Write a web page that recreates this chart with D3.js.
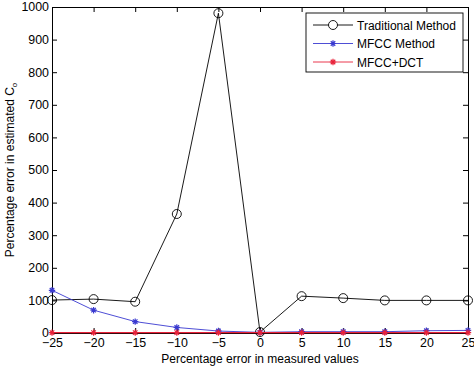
<!DOCTYPE html>
<html>
<head>
<meta charset="utf-8">
<title>Percentage error</title>
<style>
  body { margin: 0; background: #fff; }
  text { font-family: "Liberation Sans", Arial, sans-serif; font-size: 12px; fill: #000; }
</style>
<script src="https://d3js.org/d3.v7.min.js"></script>
</head>
<body>
<svg id="chart" width="474" height="367"></svg>
<script>
// values
var errors = [-25, -20, -15, -10, -5, 0, 5, 10, 15, 20, 25];
var traditional = [101, 104, 96, 365, 981, 3, 113, 107, 100, 100, 100];
var mfcc = [131, 70, 35, 17, 6, 2, 4, 4, 4, 7, 8];
var mfccDct = [1, 1, 1, 1, 1, 1, 1, 1, 1, 1, 1];
var xTicks = [-25, -20, -15, -10, -5, 0, 5, 10, 15, 20, 25];
var yTicks = [0, 100, 200, 300, 400, 500, 600, 700, 800, 900, 1000];
var seriesNames = ["Traditional Method", "MFCC Method", "MFCC+DCT"];

var svg = d3.select("#chart"),
    margin = {top: 7, right: 6, bottom: 34, left: 52},
    width = +svg.attr("width") - margin.left - margin.right,
    height = +svg.attr("height") - margin.top - margin.bottom;

var x = d3.scaleLinear().domain([-25, 25]).range([0, width]);
var y = d3.scaleLinear().domain([0, 1000]).range([height, 0]);

var g = svg.append("g").attr("transform", "translate(" + margin.left + "," + margin.top + ")");

// axes with inward ticks (matlab box style)
var tk = 5;
g.append("g").attr("transform", "translate(0," + height + ")")
  .call(d3.axisBottom(x).tickValues(xTicks).tickSizeInner(-tk).tickSizeOuter(0).tickPadding(5).tickFormat(d3.format("d")));
g.append("g")
  .call(d3.axisTop(x).tickValues(xTicks).tickSizeInner(-tk).tickSizeOuter(0).tickFormat(""));
g.append("g")
  .call(d3.axisLeft(y).tickValues(yTicks).tickSizeInner(-tk).tickSizeOuter(0).tickPadding(3).tickFormat(d3.format("d")));
g.append("g").attr("transform", "translate(" + width + ",0)")
  .call(d3.axisRight(y).tickValues(yTicks).tickSizeInner(-tk).tickSizeOuter(0).tickFormat(""));
g.selectAll(".domain").attr("stroke", "#000");
g.selectAll(".tick line").attr("stroke", "#000");
g.selectAll(".tick text").style("font-size", "12.4px")
  .style("font-family", "'Liberation Sans', Arial, sans-serif");

// axis titles
svg.append("text")
  .attr("x", margin.left + width / 2).attr("y", 363)
  .style("text-anchor", "middle")
  .text("Percentage error in measured values");

var yl = svg.append("text")
  .attr("transform", "translate(14," + (margin.top + height / 2) + ") rotate(-90)")
  .style("text-anchor", "middle")
  .text("Percentage error in estimated C");
yl.append("tspan").attr("dy", 3).style("font-size", "8px").text("o");

var line = d3.line().x(function(d, i) { return x(errors[i]); }).y(function(d) { return y(d); });

function star(sel, cx, cy, r, col) {
  var p = "";
  for (var k = 0; k < 4; k++) {
    var a = k * Math.PI / 4;
    p += "M" + (cx - r * Math.cos(a)) + "," + (cy - r * Math.sin(a)) +
         "L" + (cx + r * Math.cos(a)) + "," + (cy + r * Math.sin(a));
  }
  sel.append("path").attr("d", p).attr("stroke", col).attr("stroke-width", 1.2).attr("fill", "none");
}

// traditional
g.append("path").datum(traditional).attr("d", line)
  .attr("fill", "none").attr("stroke", "#000").attr("stroke-width", 0.9);
g.selectAll(".circ").data(traditional).enter().append("circle")
  .attr("cx", function(d, i) { return x(errors[i]); })
  .attr("cy", function(d) { return y(d); })
  .attr("r", 4.5).attr("fill", "none").attr("stroke", "#000").attr("stroke-width", 0.9);

// mfcc
g.append("path").datum(mfcc).attr("d", line)
  .attr("fill", "none").attr("stroke", "#3a3ad0").attr("stroke-width", 0.9);
mfcc.forEach(function(d, i) { star(g, x(errors[i]), y(d), 3.2, "#3a3ad0"); });

// mfcc + dct
g.append("path").datum(mfccDct).attr("d", line)
  .attr("fill", "none").attr("stroke", "#e8223a").attr("stroke-width", 1.2);
mfccDct.forEach(function(d, i) { star(g, x(errors[i]), y(d), 3.2, "#e8223a"); });

// legend
var lg = svg.append("g");
lg.append("rect").attr("x", 306).attr("y", 13).attr("width", 157).attr("height", 59)
  .attr("fill", "#fff").attr("stroke", "#000").attr("stroke-width", 0.9);
var cols = ["#000", "#3a3ad0", "#e8223a"];
seriesNames.forEach(function(name, i) {
  var ly = 25 + i * 18.5;
  lg.append("line").attr("x1", 313).attr("x2", 353).attr("y1", ly).attr("y2", ly)
    .attr("stroke", cols[i]).attr("stroke-width", 0.9);
  if (i === 0) {
    lg.append("circle").attr("cx", 333).attr("cy", ly).attr("r", 4.5)
      .attr("fill", "#fff").attr("stroke", "#000").attr("stroke-width", 0.9);
  } else {
    star(lg, 333, ly, 3.2, cols[i]);
  }
  lg.append("text").attr("x", 357).attr("y", ly + 4.5).text(name);
});
</script>
</body>
</html>
